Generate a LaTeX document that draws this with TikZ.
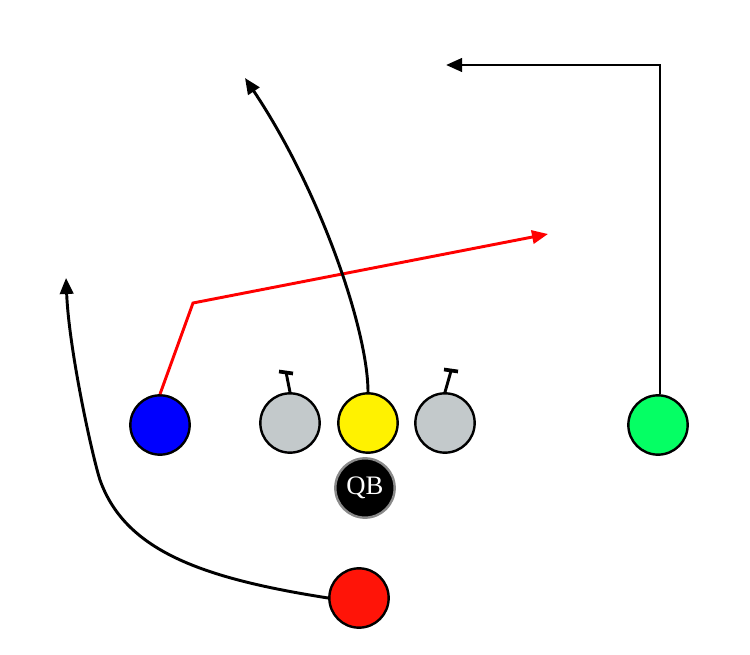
\documentclass[tikz,border=0pt]{standalone}
\usepackage{fontspec}
\setmainfont{Liberation Serif}
\usetikzlibrary{arrows.meta}
\definecolor{pgrey}{HTML}{C3C9CB}
\definecolor{pgreen}{HTML}{05FF64}
\definecolor{pred}{HTML}{FF1408}
\definecolor{qbring}{HTML}{8A8A8A}
\begin{document}
\begin{tikzpicture}[x=0.75pt,y=-0.75pt,
  player/.style={circle,draw=black,line width=1.8pt,minimum size=44.5pt,inner sep=0pt},
  route/.style={line width=2.2pt,-{Triangle[length=12pt,width=10pt]}},
  block/.style={line width=2.2pt},
  bar/.style={line width=2.8pt}]
\useasboundingbox (0,0) rectangle (750,655);
\node[player,fill=blue] (wr) at (160,425) {};
\node[player,fill=pgrey] (lg) at (290,423) {};
\node[player,fill=yellow] (c) at (368,423) {};
\node[player,fill=pgrey] (rg) at (445,423) {};
\node[player,fill=pgreen] (te) at (658,425) {};
\node[player,fill=black,draw=qbring,text=white,font=\fontsize{20}{22}\selectfont] (qb) at (365,488) {QB};
\node[player,fill=pred] (rb) at (359,598) {};
% routes
\coordinate (rbend) at (66,278);
\draw[route] (rb.west) .. controls (200,578) and (125,550) .. (100,480) .. controls (92,455) and (69,350) .. (rbend);
\coordinate (wrbreak) at (193,303);
\coordinate (wrend) at (548,234);
\draw[route,red] (wr.north) -- (wrbreak) -- (wrend);
\coordinate (cend) at (245,78);
\draw[route] (c.north) .. controls (368,330) and (320,190) .. (cend);
\coordinate (tecorner) at (660,65);
\coordinate (teend) at (446,65);
\draw[route] (tecorner |- te.north) -- (tecorner) -- (teend);
% blocks
\coordinate (lgb) at (286,372);
\draw[block] (lg.north) -- (lgb);
\draw[bar] (279,371.5) -- (293,373.5);
\coordinate (rgb) at (451,371);
\draw[block] (rg.north) -- (rgb);
\draw[bar] (444,369.5) -- (458,371.5);
\end{tikzpicture}
\end{document}
